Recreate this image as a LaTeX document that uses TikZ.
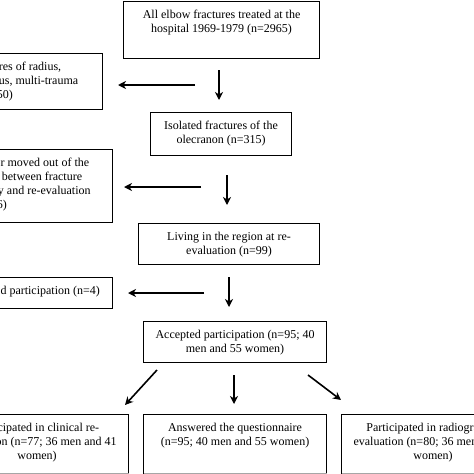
\documentclass[tikz,border=0pt]{standalone}
\usepackage{fontspec}
\setmainfont{Liberation Serif}
\usetikzlibrary{arrows.meta}
\begin{document}
\begin{tikzpicture}[x=1pt,y=-1pt,
  box/.style={draw, line width=1.1pt, inner sep=0, anchor=north west},
  txt/.style={inner sep=0, anchor=north, align=center, font=\fontsize{12}{14}\selectfont},
  ltxt/.style={inner sep=0, anchor=north west, align=left, font=\fontsize{12}{14}\selectfont},
  arr/.style={line width=1.6pt, -{Stealth[length=8pt,width=8pt,inset=2.5pt]}},
  band/.style={fill=black!35, draw=none}]
\useasboundingbox (0,0) rectangle (474,474);
\clip (0,0) rectangle (474,474);
% centre column
\node[box, minimum width=196pt, minimum height=57pt] (b1) at (123,1) {};
\node[txt] (t1) at ([yshift=-9pt]b1.north) {All elbow fractures treated at the\\hospital 1969-1979 (n=2965)};
\node[box, minimum width=141pt, minimum height=43pt] (b2) at (150,112) {};
\node[txt] (t2) at ([yshift=-9pt]b2.north) {Isolated fractures of the\\olecranon (n=315)};
\node[box, minimum width=181pt, minimum height=41pt] (b3) at (138,223) {};
\node[txt] (t3) at ([yshift=-9pt]b3.north) {Living in the region at re-\\evaluation (n=99)};
\node[box, minimum width=183pt, minimum height=41pt] (b4) at (143,321) {};
\node[txt] (t4) at ([yshift=-9pt]b4.north) {Accepted participation (n=95; 40\\men and 55 women)};
% left column
\node[box, minimum width=147pt, minimum height=56pt] (l1) at (-45,53) {};
\node[ltxt] (lt1) at ([xshift=13pt,yshift=-9pt]l1.north west) {Fractures of radius,\\humerus, multi-trauma\\(n=2650)};
\node[box, minimum width=157pt, minimum height=73pt] (l2) at (-45,149) {};
\node[ltxt] (lt2) at ([xshift=13pt,yshift=-9pt]l2.north west) {Died or moved out of the\\region between fracture\\surgery and re-evaluation\\(n=216)};
\node[box, minimum width=157pt, minimum height=31pt] (l3) at (-45,277) {};
\node[ltxt, anchor=north east] (lt3) at ([xshift=-13pt,yshift=-9pt]l3.north east) {Declined participation (n=4)};
% bottom row
\node[box, minimum width=183pt, minimum height=60pt] (c1) at (-55,414) {};
\node[txt] (ct1) at ([yshift=-9pt]c1.north) {Participated in clinical re-\\evaluation (n=77; 36 men and 41\\women)};
\node[box, minimum width=183pt, minimum height=60pt] (c2) at (143,414) {};
\node[txt] (ct2) at ([yshift=-9pt]c2.north) {Answered the questionnaire\\(n=95; 40 men and 55 women)};
\node[box, minimum width=183pt, minimum height=60pt] (c3) at (341,414) {};
\node[txt] (ct3) at ([yshift=-9pt]c3.north) {Participated in radiographic\\evaluation (n=80; 36 men and 44\\women)};
\fill[band] ([xshift=0.55pt]c1.south west) ++(0,-2.5) rectangle ([xshift=-0.55pt]c1.south east);
\fill[band] ([xshift=0.55pt]c2.south west) ++(0,-2.5) rectangle ([xshift=-0.55pt]c2.south east);
\fill[band] ([xshift=0.55pt]c3.south west) ++(0,-2.5) rectangle ([xshift=-0.55pt]c3.south east);
% arrows
\coordinate (d1s) at (219,70);  \coordinate (d1e) at (219,100);
\coordinate (h1s) at (195,85);  \coordinate (h1e) at (118,85);
\coordinate (d2s) at (227,175); \coordinate (d2e) at (227,205);
\coordinate (h2s) at (201,187); \coordinate (h2e) at (124,187);
\coordinate (d3s) at (229,277); \coordinate (d3e) at (229,307);
\coordinate (h3s) at (204,293); \coordinate (h3e) at (128,293);
\coordinate (e1s) at (157,370); \coordinate (e1e) at (125,405);
\coordinate (e2s) at (234,375); \coordinate (e2e) at (234,404);
\coordinate (e3s) at (308,375); \coordinate (e3e) at (341,400);
\draw[arr] (d1s) -- (d1e);
\draw[arr] (h1s) -- (h1e);
\draw[arr] (d2s) -- (d2e);
\draw[arr] (h2s) -- (h2e);
\draw[arr] (d3s) -- (d3e);
\draw[arr] (h3s) -- (h3e);
\draw[arr] (e1s) -- (e1e);
\draw[arr] (e2s) -- (e2e);
\draw[arr] (e3s) -- (e3e);
\end{tikzpicture}
\end{document}
